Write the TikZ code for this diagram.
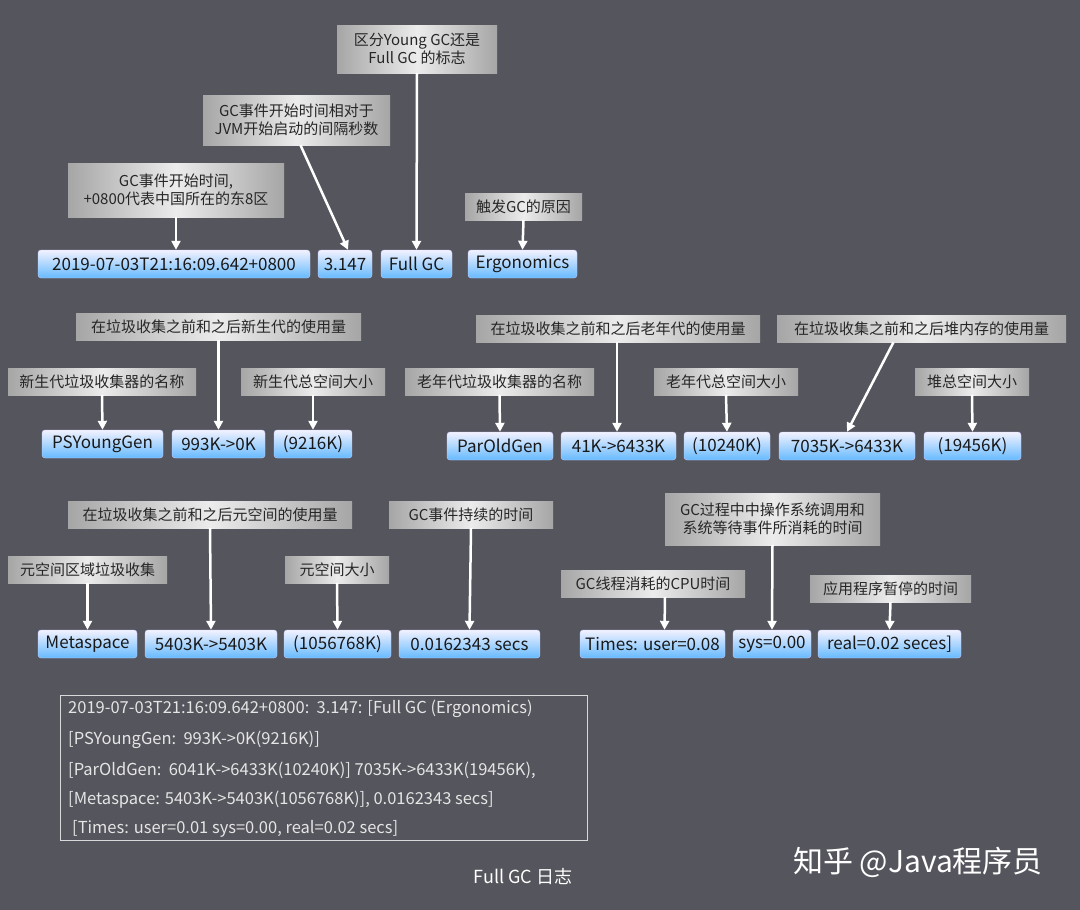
\documentclass[tikz,border=0pt]{standalone}
\usepackage{fontspec}
\setmainfont{Noto Sans CJK SC}
\usetikzlibrary{arrows.meta}
\definecolor{bgc}{HTML}{55555D}
\tikzset{
 gbox/.style={draw=none,left color=gray!70,right color=gray!70,middle color=gray!15,text=black!85,font=\fontsize{15}{18}\selectfont,align=center,inner sep=0pt,minimum height=27pt},
 bbox/.style={draw=white!80!blue,rounded corners=3pt,top color=blue!5!white,bottom color=blue!45!cyan!60,text=black!90,font=\fontsize{17}{20}\selectfont,inner sep=0pt,minimum height=28pt},
 arr/.style={draw=white,line width=2.5pt,-{Triangle[length=9pt,width=9pt]}},
 logt/.style={text=white!90!black,font=\fontsize{16.5}{19}\selectfont,anchor=west,inner sep=0pt}
}
\begin{document}
\begin{tikzpicture}[x=1pt,y=-1pt]
\fill[bgc] (0,0) rectangle (1080,910);
\useasboundingbox (0,0) rectangle (1080,910);
% row 1
\node[gbox,minimum width=160pt,minimum height=48pt] (g1) at (417,49) {区分Young GC还是\\Full GC 的标志};
\node[gbox,minimum width=187pt,minimum height=50pt] (g2) at (296.5,120) {GC事件开始时间相对于\\JVM开始启动的间隔秒数};
\node[gbox,minimum width=216pt,minimum height=54pt] (g3) at (176,190) {GC事件开始时间,\\+0800代表中国所在的东8区};
\node[gbox,minimum width=117pt] (g4) at (523.5,206.5) {触发GC的原因};
\node[bbox,minimum width=272pt] (b1) at (174,264) {2019-07-03T21:16:09.642+0800};
\node[bbox,minimum width=54pt] (b2) at (345,264) {3.147};
\node[bbox,minimum width=71pt] (b3) at (416.5,264) {Full GC};
\node[bbox,minimum width=109pt] (b4) at (522.5,264) {Ergonomics};
\draw[arr] (g3.south) -- ([xshift=2pt]b1.north);
\draw[arr] ([xshift=4pt]g2.south) -- ([xshift=3pt]b2.north);
\draw[arr] (g1.south) -- (b3.north);
\draw[arr] (g4.south) -- (b4.north);
% row 2 left
\node[gbox,minimum width=285pt] (g5) at (218.5,326.5) {在垃圾收集之前和之后新生代的使用量};
\node[gbox,minimum width=188pt] (g6) at (102,381.5) {新生代垃圾收集器的名称};
\node[gbox,minimum width=144pt] (g7) at (313,381.5) {新生代总空间大小};
\node[bbox,minimum width=121pt] (b5) at (102.5,444) {PSYoungGen};
\node[bbox,minimum width=93pt] (b6) at (218.5,444) {993K->0K};
\node[bbox,minimum width=78pt] (b7) at (313,444) {(9216K)};
\draw[arr] (g6.south) -- (b5.north);
\draw[arr] (g5.south) -- (b6.north);
\draw[arr] (g7.south) -- (b7.north);
% row 2 right
\node[gbox,minimum width=284pt] (g8) at (618,328.5) {在垃圾收集之前和之后老年代的使用量};
\node[gbox,minimum width=189pt] (g9) at (499.5,381.5) {老年代垃圾收集器的名称};
\node[gbox,minimum width=144pt] (g10) at (726,381.5) {老年代总空间大小};
\node[gbox,minimum width=289pt] (g11) at (921.5,328.5) {在垃圾收集之前和之后堆内存的使用量};
\node[gbox,minimum width=114pt] (g12) at (972,381.5) {堆总空间大小};
\node[bbox,minimum width=106pt] (b8) at (500,446) {ParOldGen};
\node[bbox,minimum width=115pt] (b9) at (618.5,446) {41K->6433K};
\node[bbox,minimum width=86pt] (b10) at (727,446) {(10240K)};
\node[bbox,minimum width=136pt] (b11) at (847,446) {7035K->6433K};
\node[bbox,minimum width=97pt] (b12) at (972.5,446) {(19456K)};
\draw[arr] (g9.south) -- (b8.north);
\draw[arr] ([xshift=-1pt]g8.south) -- ([xshift=-1.5pt]b9.north);
\draw[arr] (g10.south) -- (b10.north);
\draw[arr] ([xshift=-28pt]g11.south) -- (b11.north);
\draw[arr] (g12.south) -- (b12.north);
% row 3
\node[gbox,minimum width=284pt] (g13) at (210,514.5) {在垃圾收集之前和之后元空间的使用量};
\node[gbox,minimum width=164pt] (g14) at (471,514.5) {GC事件持续的时间};
\node[gbox,minimum width=159pt] (g15) at (87.5,569.5) {元空间区域垃圾收集};
\node[gbox,minimum width=104pt] (g16) at (337,569.5) {元空间大小};
\node[gbox,minimum width=215pt,minimum height=52pt] (g17) at (772.5,519) {GC过程中中操作系统调用和\\系统等待事件所消耗的时间};
\node[gbox,minimum width=184pt] (g18) at (653,583.5) {GC线程消耗的CPU时间};
\node[gbox,minimum width=161pt] (g19) at (890.5,588.5) {应用程序暂停的时间};
\node[bbox,minimum width=99pt] (b13) at (87.5,644) {Metaspace};
\node[bbox,minimum width=132pt] (b14) at (211,644) {5403K->5403K};
\node[bbox,minimum width=107pt] (b15) at (337.5,644) {(1056768K)};
\node[bbox,minimum width=141pt] (b16) at (469.5,644) {0.0162343 secs};
\node[bbox,minimum width=145pt] (b17) at (652.5,644) {Times: user=0.08};
\node[bbox,minimum width=78pt] (b18) at (772,644) {sys=0.00};
\node[bbox,minimum width=143pt] (b19) at (889.5,644) {real=0.02 seces]};
\draw[arr] (g15.south) -- (b13.north);
\draw[arr] (g13.south) -- (b14.north);
\draw[arr] (g16.south) -- (b15.north);
\draw[arr] (g14.south) -- (b16.north);
\draw[arr] ([xshift=12pt]g18.south) -- ([xshift=12pt]b17.north);
\draw[arr] (g17.south) -- (b18.north);
\draw[arr] (g19.south) -- (b19.north);
% log
\node[draw=white!85!black,line width=0.8pt,minimum width=527pt,minimum height=145pt,inner sep=0pt] (log) at (323.5,767.5) {};
\node[logt] (l1) at (68,709) {2019-07-03T21:16:09.642+0800:\ \ 3.147: [Full GC (Ergonomics)};
\node[logt] (l2) at (68,740) {[PSYoungGen:\ \ 993K->0K(9216K)]};
\node[logt] (l3) at (68,770) {[ParOldGen:\ \ 6041K->6433K(10240K)] 7035K->6433K(19456K),};
\node[logt] (l4) at (68,800) {[Metaspace: 5403K->5403K(1056768K)], 0.0162343 secs]};
\node[logt] (l5) at (72,829) {[Times: user=0.01 sys=0.00, real=0.02 secs]};
\node[text=white,font=\fontsize{18}{21}\selectfont] (cap) at (523,877) {Full GC 日志};
\node[text=white,font=\fontsize{30}{35}\selectfont] (wm) at (918,862) {知乎 @Java程序员};
\end{tikzpicture}
\end{document}
